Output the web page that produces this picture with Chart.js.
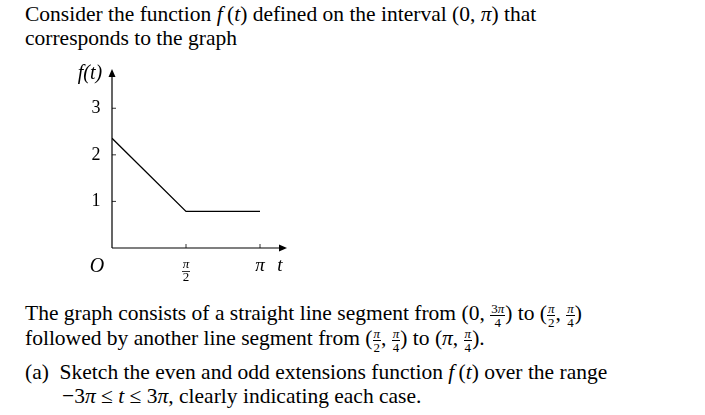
<!DOCTYPE html>
<html>
<head>
<meta charset="utf-8">
<script src="https://cdn.jsdelivr.net/npm/chart.js@4/dist/chart.umd.min.js"></script>
<style>
body { margin: 0; background: #fff; width: 705px; height: 415px; position: relative; overflow: hidden;
  font-family: "Liberation Serif", serif; font-size: 21.5px; color: #000; }
.t { position: absolute; left: 25px; white-space: nowrap; }
#wrap { position: absolute; left: 60px; top: 52px; width: 250px; height: 240px; }
i { font-style: italic; }
.fr { display: inline-block; vertical-align: middle; text-align: center; font-size: 13px; line-height: 13px; }
.fr span { display: block; padding: 0 1px; }
.fr span:first-child { border-bottom: 1px solid #000; }
</style>
</head>
<body>
<div class="t" style="top:2px">Consider the function <i>f</i>&thinsp;(<i>t</i>) defined on the interval (0, <i>π</i>) that</div>
<div class="t" style="top:26px">corresponds to the graph</div>
<div id="wrap"><canvas id="myChart" width="250" height="240"></canvas></div>
<div class="t" style="top:301px">The graph consists of a straight line segment from (0, <span class="fr"><span>3<i>π</i></span><span>4</span></span>) to (<span class="fr"><span><i>π</i></span><span>2</span></span>, <span class="fr"><span><i>π</i></span><span>4</span></span>)</div>
<div class="t" style="top:326px">followed by another line segment from (<span class="fr"><span><i>π</i></span><span>2</span></span>, <span class="fr"><span><i>π</i></span><span>4</span></span>) to (<i>π</i>, <span class="fr"><span><i>π</i></span><span>4</span></span>).</div>
<div class="t" style="top:360px">(a)&nbsp; Sketch the even and odd extensions function <i>f</i>&thinsp;(<i>t</i>) over the range</div>
<div class="t" style="top:384px; left:62px">−3<i>π</i> ≤ <i>t</i> ≤ 3<i>π</i>, clearly indicating each case.</div>
<script>
const tValues = [0, Math.PI / 2, Math.PI];
const fValues = [3 * Math.PI / 4, Math.PI / 4, Math.PI / 4];
const yTicks = [1, 2, 3];
const xTicks = [Math.PI / 2, Math.PI];

const axesPlugin = {
    id: 'axes',
    afterDraw(chart) {
        const c = chart.ctx, x = chart.scales.x, y = chart.scales.y;
        const x0 = x.getPixelForValue(0), y0 = y.getPixelForValue(0);
        const xe = x.getPixelForValue(x.max), ye = y.getPixelForValue(y.max);
        c.save();
        c.strokeStyle = '#000'; c.fillStyle = '#000'; c.lineWidth = 1.2;
        c.beginPath(); c.moveTo(x0, y0); c.lineTo(xe, y0); c.moveTo(x0, y0); c.lineTo(x0, ye); c.stroke();
        c.beginPath(); c.moveTo(xe + 2, y0); c.lineTo(xe - 6, y0 - 3.5); c.lineTo(xe - 6, y0 + 3.5); c.fill();
        c.beginPath(); c.moveTo(x0, ye - 2); c.lineTo(x0 - 3.5, ye + 6); c.lineTo(x0 + 3.5, ye + 6); c.fill();
        c.lineWidth = 0.8;
        c.font = '18px "Liberation Serif"'; c.textAlign = 'center'; c.textBaseline = 'middle';
        yTicks.forEach(v => {
            const p = y.getPixelForValue(v);
            c.beginPath(); c.moveTo(x0, p); c.lineTo(x0 + 4, p); c.stroke();
            c.fillText(String(v), x0 - 16, p);
        });
        xTicks.forEach(v => {
            const p = x.getPixelForValue(v);
            c.beginPath(); c.moveTo(p, y0); c.lineTo(p, y0 - 4); c.stroke();
        });
        c.font = 'italic 20px "Liberation Serif"';
        c.fillText('O', x0 - 15, y0 + 19);
        c.fillText('f(t)', x0 - 22, ye + 3);
        const ph = x.getPixelForValue(Math.PI / 2);
        c.font = 'italic 13px "Liberation Serif"';
        c.fillText('π', ph, y0 + 17);
        c.font = '13px "Liberation Serif"';
        c.fillText('2', ph, y0 + 30);
        c.beginPath(); c.moveTo(ph - 4, y0 + 23.5); c.lineTo(ph + 4, y0 + 23.5); c.stroke();
        c.font = 'italic 19px "Liberation Serif"';
        const pp = x.getPixelForValue(Math.PI);
        c.fillText('π', pp, y0 + 18);
        c.fillText('t', pp + 20, y0 + 18);
        c.restore();
    }
};

const ctx = document.getElementById('myChart');
const chart = new Chart(ctx, {
    type: 'scatter',
    data: {
        datasets: [{
            data: tValues.map((t, i) => ({ x: t, y: fValues[i] })),
            showLine: true, borderColor: '#000', borderWidth: 1.3, pointRadius: 0, tension: 0
        }]
    },
    options: {
        responsive: false, animation: false,
        layout: { padding: { left: 52, top: 19, right: 25, bottom: 44 } },
        plugins: { legend: { display: false }, tooltip: { enabled: false } },
        scales: {
            x: { type: 'linear', min: 0, max: 3.672, display: false },
            y: { min: 0, max: 3.8, display: false }
        }
    },
    plugins: [axesPlugin]
});
</script>
</body>
</html>
